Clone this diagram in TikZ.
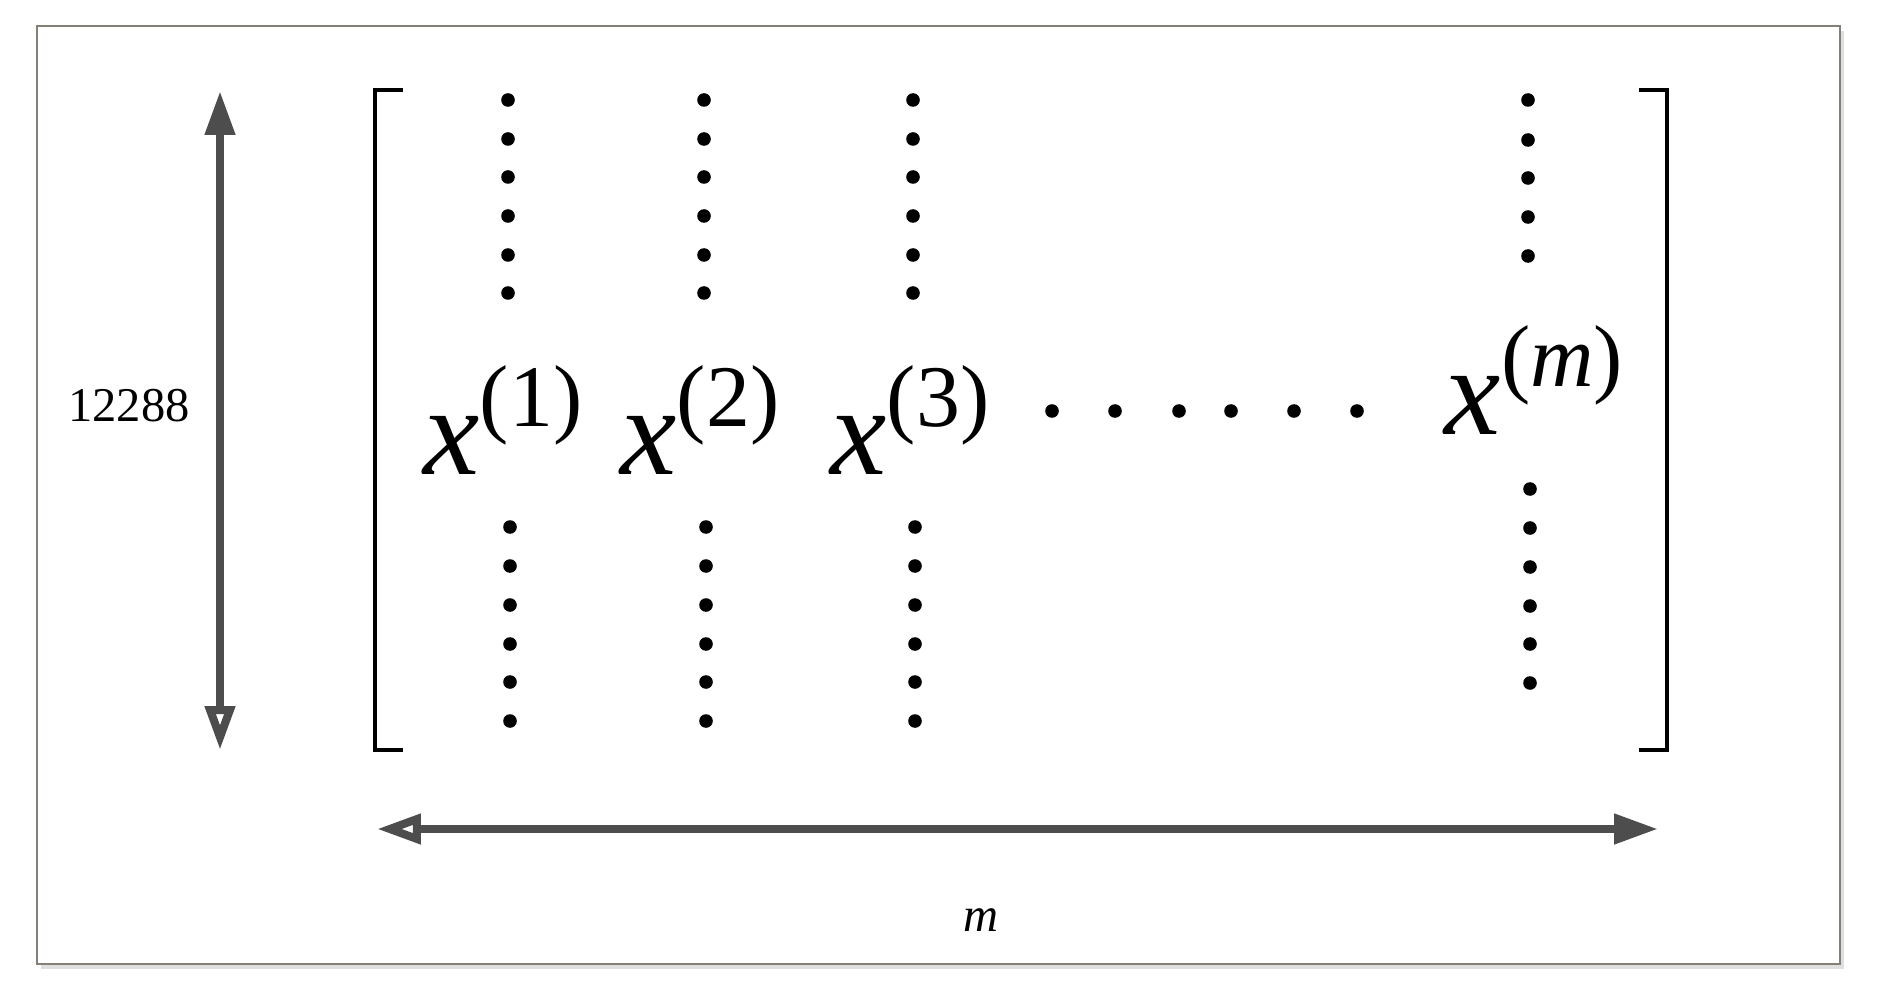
\documentclass[tikz,border=0pt]{standalone}
\usepackage{fontspec}
\setmainfont{Liberation Serif}
\usetikzlibrary{arrows.meta,positioning,shadows}
\definecolor{arrowgray}{HTML}{4D4D4D}
\definecolor{framegray}{HTML}{857F76}
\tikzset{
  dimedge/.style = {draw=arrowgray, line width=2.3pt,
    {Triangle[open,length=12.5pt,width=8.2pt]}-{Triangle[length=12.5pt,width=8.2pt]}},
  bracket/.style = {black, line width=1.1pt},
  vecdot/.style = {fill=black},
  entry/.style = {inner sep=0pt, anchor=base},
  dimlabel/.style = {inner sep=0pt, font=\fontsize{13.8}{16}\selectfont},
}
\newcommand{\xcol}[1]{\fontsize{36}{40}\selectfont\textit{x}\raisebox{0.38em}{\fontsize{25}{28}\selectfont(#1)}}

\begin{document}
\begin{tikzpicture}[x=0.01cm,y=-0.01cm]
      \useasboundingbox (0,0) rectangle (1884,994);
      \draw[framegray, fill=white, line width=0.8pt,
        drop shadow={shadow xshift=1.2pt, shadow yshift=-1.5pt, opacity=0.25}]
        (37,26) rectangle (1840,964);

      % the columns of the matrix
      \node[entry] (x1) at (503,475) {\xcol{1}};
      \node[entry] (x2) at (700,475) {\xcol{2}};
      \node[entry] (x3) at (910,475) {\xcol{3}};
      \node[entry] (xm) at (1534,435) {\xcol{\textit{m}}};

      \foreach \cx in {508,704,913} {
        \foreach \cy in {100,139,177,216,255,293}
          \fill[vecdot] (\cx,\cy) circle[radius=6.8];
        \foreach \cy in {527,566,605,644,682,721}
          \fill[vecdot] (\cx+2,\cy) circle[radius=6.8];
      }
      \foreach \cy in {100,140,178,217,256}
        \fill[vecdot] (1528,\cy) circle[radius=6.8];
      \foreach \cy in {489,528,567,606,644,683}
        \fill[vecdot] (1530,\cy) circle[radius=6.8];
      \foreach \cx in {1052,1115,1179,1231,1294,1357}
        \fill[vecdot] (\cx,411) circle[radius=6.8];

      % brackets
      \draw[bracket] (403,90) -- (375,90) -- (375,750) -- (403,750);
      \draw[bracket] (1639,90) -- (1667,90) -- (1667,750) -- (1639,750);

      % dimensions
      \coordinate (vtop) at (220,91);
      \coordinate (vbot) at (220,750);
      \coordinate (hleft) at (377,829);
      \coordinate (hright) at (1658,829);
      \path (vbot) edge[dimedge] (vtop);
      \path (hleft) edge[dimedge] (hright);
      \node[dimlabel] (rows) at (129,406) {12288};
      \node[dimlabel] (cols) at (981,920) {\textit{m}};
\end{tikzpicture}
\end{document}
